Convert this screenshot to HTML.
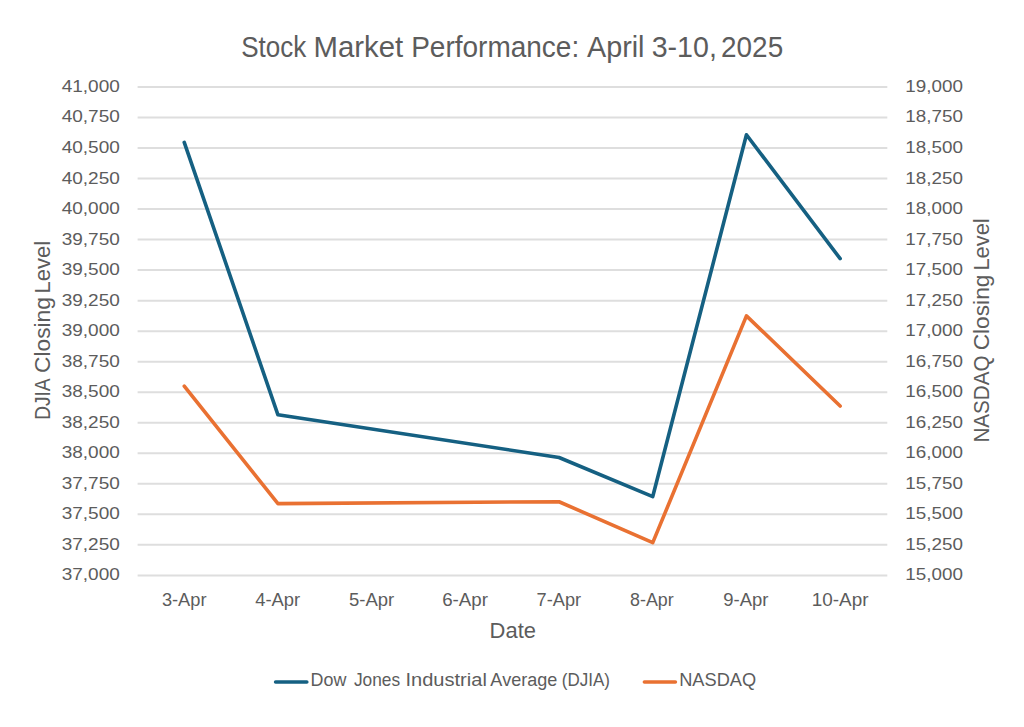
<!DOCTYPE html>
<html><head><meta charset="utf-8"><title>Stock Market Performance</title>
<style>
html,body{margin:0;padding:0;background:#fff;width:1024px;height:727px;overflow:hidden}
svg{display:block}
text{font-family:"Liberation Sans",sans-serif;font-kerning:none;white-space:pre}
</style></head><body>
<svg width="1024" height="727" viewBox="0 0 1024 727">
<rect width="1024" height="727" fill="#ffffff"/>
<line x1="137.6" y1="575.40" x2="887.3" y2="575.40" stroke="#dedede" stroke-width="2"/>
<line x1="137.6" y1="544.87" x2="887.3" y2="544.87" stroke="#dedede" stroke-width="2"/>
<line x1="137.6" y1="514.34" x2="887.3" y2="514.34" stroke="#dedede" stroke-width="2"/>
<line x1="137.6" y1="483.81" x2="887.3" y2="483.81" stroke="#dedede" stroke-width="2"/>
<line x1="137.6" y1="453.28" x2="887.3" y2="453.28" stroke="#dedede" stroke-width="2"/>
<line x1="137.6" y1="422.75" x2="887.3" y2="422.75" stroke="#dedede" stroke-width="2"/>
<line x1="137.6" y1="392.22" x2="887.3" y2="392.22" stroke="#dedede" stroke-width="2"/>
<line x1="137.6" y1="361.69" x2="887.3" y2="361.69" stroke="#dedede" stroke-width="2"/>
<line x1="137.6" y1="331.16" x2="887.3" y2="331.16" stroke="#dedede" stroke-width="2"/>
<line x1="137.6" y1="300.63" x2="887.3" y2="300.63" stroke="#dedede" stroke-width="2"/>
<line x1="137.6" y1="270.10" x2="887.3" y2="270.10" stroke="#dedede" stroke-width="2"/>
<line x1="137.6" y1="239.57" x2="887.3" y2="239.57" stroke="#dedede" stroke-width="2"/>
<line x1="137.6" y1="209.04" x2="887.3" y2="209.04" stroke="#dedede" stroke-width="2"/>
<line x1="137.6" y1="178.51" x2="887.3" y2="178.51" stroke="#dedede" stroke-width="2"/>
<line x1="137.6" y1="147.98" x2="887.3" y2="147.98" stroke="#dedede" stroke-width="2"/>
<line x1="137.6" y1="117.45" x2="887.3" y2="117.45" stroke="#dedede" stroke-width="2"/>
<line x1="137.6" y1="86.92" x2="887.3" y2="86.92" stroke="#dedede" stroke-width="2"/>
<text transform="translate(241.22,56.60) scale(0.9037,1)" font-size="28.78" fill="#5c5c5c">Stock</text>
<text transform="translate(313.59,56.60) scale(1.0189,1)" font-size="28.78" fill="#5c5c5c">Market</text>
<text transform="translate(411.20,56.60) scale(0.9734,1)" font-size="28.78" fill="#5c5c5c">Performance:</text>
<text transform="translate(586.94,56.60) scale(1.0001,1)" font-size="28.78" fill="#5c5c5c">April</text>
<text transform="translate(651.71,56.60) scale(0.9933,1)" font-size="28.78" fill="#5c5c5c">3-10,</text>
<text transform="translate(721.10,56.60) scale(0.9696,1)" font-size="28.78" fill="#5c5c5c">2025</text>
<text transform="translate(61.66,580.40) scale(1.0997,1)" font-size="17.30" fill="#5c5c5c">37,000</text>
<text transform="translate(61.66,549.87) scale(1.0997,1)" font-size="17.30" fill="#5c5c5c">37,250</text>
<text transform="translate(61.66,519.34) scale(1.0997,1)" font-size="17.30" fill="#5c5c5c">37,500</text>
<text transform="translate(61.66,488.81) scale(1.0997,1)" font-size="17.30" fill="#5c5c5c">37,750</text>
<text transform="translate(61.66,458.28) scale(1.0997,1)" font-size="17.30" fill="#5c5c5c">38,000</text>
<text transform="translate(61.66,427.75) scale(1.0997,1)" font-size="17.30" fill="#5c5c5c">38,250</text>
<text transform="translate(61.66,397.22) scale(1.0997,1)" font-size="17.30" fill="#5c5c5c">38,500</text>
<text transform="translate(61.66,366.69) scale(1.0997,1)" font-size="17.30" fill="#5c5c5c">38,750</text>
<text transform="translate(61.66,336.16) scale(1.0997,1)" font-size="17.30" fill="#5c5c5c">39,000</text>
<text transform="translate(61.66,305.63) scale(1.0997,1)" font-size="17.30" fill="#5c5c5c">39,250</text>
<text transform="translate(61.66,275.10) scale(1.0997,1)" font-size="17.30" fill="#5c5c5c">39,500</text>
<text transform="translate(61.66,244.57) scale(1.0997,1)" font-size="17.30" fill="#5c5c5c">39,750</text>
<text transform="translate(61.66,214.04) scale(1.0997,1)" font-size="17.30" fill="#5c5c5c">40,000</text>
<text transform="translate(61.66,183.51) scale(1.0997,1)" font-size="17.30" fill="#5c5c5c">40,250</text>
<text transform="translate(61.66,152.98) scale(1.0997,1)" font-size="17.30" fill="#5c5c5c">40,500</text>
<text transform="translate(61.66,122.45) scale(1.0997,1)" font-size="17.30" fill="#5c5c5c">40,750</text>
<text transform="translate(61.66,91.92) scale(1.0997,1)" font-size="17.30" fill="#5c5c5c">41,000</text>
<text transform="translate(905.26,580.40) scale(1.0901,1)" font-size="17.30" fill="#5c5c5c">15,000</text>
<text transform="translate(905.26,549.87) scale(1.0901,1)" font-size="17.30" fill="#5c5c5c">15,250</text>
<text transform="translate(905.26,519.34) scale(1.0901,1)" font-size="17.30" fill="#5c5c5c">15,500</text>
<text transform="translate(905.26,488.81) scale(1.0901,1)" font-size="17.30" fill="#5c5c5c">15,750</text>
<text transform="translate(905.26,458.28) scale(1.0901,1)" font-size="17.30" fill="#5c5c5c">16,000</text>
<text transform="translate(905.26,427.75) scale(1.0901,1)" font-size="17.30" fill="#5c5c5c">16,250</text>
<text transform="translate(905.26,397.22) scale(1.0901,1)" font-size="17.30" fill="#5c5c5c">16,500</text>
<text transform="translate(905.26,366.69) scale(1.0901,1)" font-size="17.30" fill="#5c5c5c">16,750</text>
<text transform="translate(905.26,336.16) scale(1.0901,1)" font-size="17.30" fill="#5c5c5c">17,000</text>
<text transform="translate(905.26,305.63) scale(1.0901,1)" font-size="17.30" fill="#5c5c5c">17,250</text>
<text transform="translate(905.26,275.10) scale(1.0901,1)" font-size="17.30" fill="#5c5c5c">17,500</text>
<text transform="translate(905.26,244.57) scale(1.0901,1)" font-size="17.30" fill="#5c5c5c">17,750</text>
<text transform="translate(905.26,214.04) scale(1.0901,1)" font-size="17.30" fill="#5c5c5c">18,000</text>
<text transform="translate(905.26,183.51) scale(1.0901,1)" font-size="17.30" fill="#5c5c5c">18,250</text>
<text transform="translate(905.26,152.98) scale(1.0901,1)" font-size="17.30" fill="#5c5c5c">18,500</text>
<text transform="translate(905.26,122.45) scale(1.0901,1)" font-size="17.30" fill="#5c5c5c">18,750</text>
<text transform="translate(905.26,91.92) scale(1.0901,1)" font-size="17.30" fill="#5c5c5c">19,000</text>
<text transform="translate(161.91,605.70) scale(1.0456,1)" font-size="17.44" fill="#5c5c5c">3-Apr</text>
<text transform="translate(255.18,605.70) scale(1.0557,1)" font-size="17.44" fill="#5c5c5c">4-Apr</text>
<text transform="translate(348.96,605.70) scale(1.0609,1)" font-size="17.44" fill="#5c5c5c">5-Apr</text>
<text transform="translate(442.15,605.70) scale(1.0753,1)" font-size="17.44" fill="#5c5c5c">6-Apr</text>
<text transform="translate(536.57,605.70) scale(1.0442,1)" font-size="17.44" fill="#5c5c5c">7-Apr</text>
<text transform="translate(630.02,605.70) scale(1.0239,1)" font-size="17.44" fill="#5c5c5c">8-Apr</text>
<text transform="translate(723.23,605.70) scale(1.0591,1)" font-size="17.44" fill="#5c5c5c">9-Apr</text>
<text transform="translate(811.86,605.70) scale(1.0821,1)" font-size="17.44" fill="#5c5c5c">10-Apr</text>
<text transform="translate(489.60,637.80) scale(1.0346,1)" font-size="21.22" fill="#5c5c5c">Date</text>
<text transform="translate(49.90,419.87) rotate(-90) scale(0.8882,1)" font-size="21.51" fill="#5c5c5c">DJIA</text>
<text transform="translate(49.90,373.06) rotate(-90) scale(1.0597,1)" font-size="21.51" fill="#5c5c5c">Closing</text>
<text transform="translate(49.90,293.40) rotate(-90) scale(1.0203,1)" font-size="21.51" fill="#5c5c5c">Level</text>
<text transform="translate(989.20,442.59) rotate(-90) scale(0.9538,1)" font-size="21.66" fill="#5c5c5c">NASDAQ</text>
<text transform="translate(989.20,350.35) rotate(-90) scale(1.0498,1)" font-size="21.66" fill="#5c5c5c">Closing</text>
<text transform="translate(989.20,270.59) rotate(-90) scale(1.0093,1)" font-size="21.66" fill="#5c5c5c">Level</text>
<polyline points="184.25,142.37 277.95,414.83 559.05,457.48 652.75,496.56 746.45,134.74 840.15,258.66" fill="none" stroke="#156082" stroke-width="3.6" stroke-linejoin="round" stroke-linecap="round"/>
<polyline points="184.25,386.04 277.95,503.62 559.05,501.73 652.75,542.68 746.45,315.90 840.15,405.98" fill="none" stroke="#E97132" stroke-width="3.6" stroke-linejoin="round" stroke-linecap="round"/>
<line x1="275.6" y1="682.0" x2="306.8" y2="682.0" stroke="#156082" stroke-width="3.6" stroke-linecap="round"/>
<text transform="translate(310.53,686.30) scale(1.0017,1)" font-size="17.88" fill="#5c5c5c">Dow</text>
<text transform="translate(353.93,686.30) scale(0.9683,1)" font-size="17.88" fill="#5c5c5c">Jones</text>
<text transform="translate(405.45,686.30) scale(1.1220,1)" font-size="17.88" fill="#5c5c5c">Industrial</text>
<text transform="translate(490.16,686.30) scale(1.0097,1)" font-size="17.88" fill="#5c5c5c">Average</text>
<text transform="translate(561.74,686.30) scale(0.9519,1)" font-size="17.88" fill="#5c5c5c">(DJIA)</text>
<line x1="644.4" y1="682.0" x2="675.4" y2="682.0" stroke="#E97132" stroke-width="3.6" stroke-linecap="round"/>
<text transform="translate(679.20,686.30) scale(1.0194,1)" font-size="17.88" fill="#5c5c5c">NASDAQ</text>
</svg>
</body></html>
